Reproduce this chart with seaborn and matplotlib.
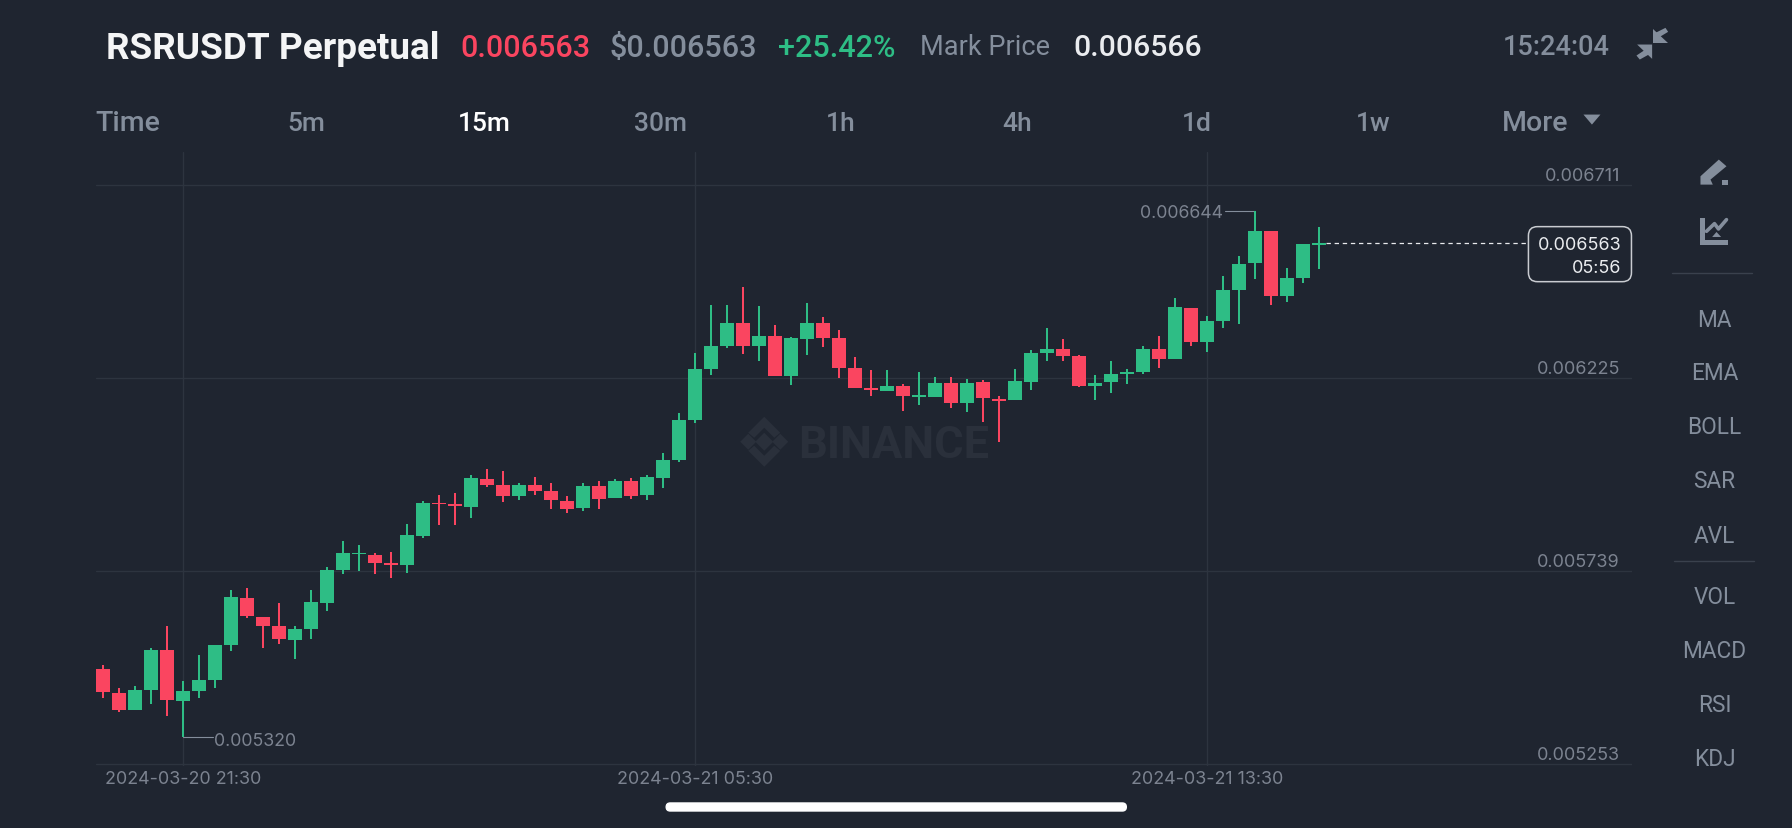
import numpy as np
import pandas as pd
import seaborn as sns
import matplotlib
matplotlib.use("Agg")
import matplotlib.pyplot as plt
from matplotlib.patches import FancyBboxPatch, Polygon

# 15m candles, prices in millionths of USDT
open_vals = [5493, 5432, 5390, 5439, 5540, 5412, 5437, 5464, 5553, 5670, 5624, 5601, 5564, 5592, 5659, 5740,
             5781, 5780, 5758, 5753, 5827, 5910, 5907, 5900, 5971, 5954, 5928, 5955, 5940, 5916, 5896, 5953,
             5923, 5964, 5929, 5973, 6019, 6118, 6247, 6305, 6362, 6305, 6330, 6229, 6323, 6362, 6325, 6250,
             6199, 6192, 6204, 6177, 6176, 6211, 6162, 6213, 6171, 6169, 6215, 6286, 6297, 6280, 6205, 6213,
             6235, 6239, 6297, 6273, 6400, 6316, 6368, 6445, 6513, 6593, 6431, 6475, 6560]
high_vals = [5501, 5445, 5448, 5546, 5599, 5461, 5526, 5553, 5690, 5695, 5624, 5658, 5599, 5692, 5749, 5814,
             5805, 5785, 5787, 5857, 5914, 5929, 5934, 5980, 5995, 5990, 5961, 5975, 5961, 5927, 5960, 5966,
             5970, 5972, 5980, 6035, 6136, 6287, 6408, 6408, 6454, 6405, 6358, 6327, 6413, 6377, 6345, 6277,
             6245, 6245, 6209, 6240, 6227, 6226, 6222, 6218, 6180, 6246, 6295, 6351, 6323, 6281, 6232, 6266,
             6248, 6305, 6330, 6426, 6400, 6381, 6482, 6531, 6644, 6595, 6500, 6562, 6603]
low_vals = [5418, 5385, 5390, 5405, 5374, 5320, 5419, 5443, 5538, 5621, 5544, 5554, 5516, 5568, 5638, 5730,
            5738, 5732, 5722, 5734, 5822, 5854, 5854, 5872, 5950, 5913, 5918, 5931, 5894, 5885, 5889, 5895,
            5923, 5919, 5917, 5947, 6014, 6112, 6233, 6300, 6284, 6266, 6229, 6207, 6281, 6303, 6224, 6198,
            6180, 6192, 6141, 6156, 6176, 6149, 6139, 6113, 6062, 6169, 6194, 6267, 6267, 6202, 6169, 6187,
            6209, 6234, 6250, 6271, 6306, 6289, 6349, 6360, 6473, 6408, 6416, 6463, 6499]
close_vals = [5434, 5390, 5439, 5541, 5413, 5437, 5464, 5553, 5672, 5625, 5601, 5567, 5592, 5660, 5740, 5783,
              5785, 5759, 5754, 5828, 5910, 5906, 5902, 5973, 5955, 5928, 5956, 5940, 5918, 5895, 5953, 5921,
              5965, 5928, 5974, 6019, 6118, 6247, 6305, 6362, 6305, 6330, 6229, 6324, 6362, 6324, 6249, 6198,
              6195, 6204, 6178, 6181, 6212, 6162, 6211, 6175, 6167, 6217, 6287, 6296, 6280, 6204, 6212, 6234,
              6239, 6297, 6272, 6402, 6315, 6368, 6445, 6512, 6593, 6430, 6476, 6562, 6563]

price_ticks = [0.006711, 0.006225, 0.005739, 0.005253]
price_labels = ["0.006711", "0.006225", "0.005739", "0.005253"]
time_idx = [5, 37, 69]
time_labels = ["2024-03-20 21:30", "2024-03-21 05:30", "2024-03-21 13:30"]
low_idx, low_price, low_text = 5, 0.005320, "0.005320"
high_idx, high_price, high_text = 72, 0.006644, "0.006644"
last_price = 0.006563

tabs = ["Time", "5m", "15m", "30m", "1h", "4h", "1d", "1w", "More"]
tabs_x = [128, 306, 484, 660, 840, 1017, 1196, 1373, 1535]
tabs_size = [20.5, 19, 19, 19, 19, 19, 19, 19, 20.5]
side_items = ["MA", "EMA", "BOLL", "SAR", "AVL", "VOL", "MACD", "RSI", "KDJ"]
side_y = [318, 371, 425, 479, 534, 595, 649, 703, 757]

BG = "#1f2530"
GRID = "#2d343f"
UP = "#2ebd85"
DOWN = "#fa4560"
GREY = "#848e9c"
DIM = "#7c8390"
WHITE = "#eaecef"

W, H = 1792, 828
sns.set_theme(style="dark", rc={"figure.facecolor": BG, "axes.facecolor": BG})
plt.rcParams["font.family"] = ["Roboto", "DejaVu Sans"]

df = pd.DataFrame({"idx": np.arange(len(open_vals)), "open": open_vals, "high": high_vals,
                   "low": low_vals, "close": close_vals})
df[["open", "high", "low", "close"]] *= 1e-6
df["top"] = df[["open", "close"]].max(axis=1)
df["bottom"] = df[["open", "close"]].min(axis=1)
df["up"] = df["close"] >= df["open"]

fig = plt.figure(figsize=((W + 0.5) / 100, (H + 0.5) / 100), dpi=100)

# full size layer in pixels for the app chrome
ui = fig.add_axes([0, 0, 1, 1], zorder=0)
ui.set_xlim(0, W)
ui.set_ylim(H, 0)
ui.axis("off")


def label(x, y, s, size, color=GREY, ha="left", weight="normal", family=None):
    # va center counts the descent, push the glyphs back down
    ui.text(x, y + 0.14 * size, s, fontsize=size, color=color, ha=ha, va="center", fontweight=weight,
            family=family or ["Roboto", "DejaVu Sans"])


# header row
label(106, 45, "RSRUSDT Perpetual", 26.6, "#f4f5f6", weight="bold")
label(460, 45, "0.006563", 22, DOWN, weight="medium")
label(609, 45, "$0.006563", 22, GREY, weight="medium")
label(778, 45, "+25.42%", 22, UP, weight="medium")
label(920, 45, "Mark Price", 19.5, GREY)
label(1073, 45, "0.006566", 21.7, WHITE, weight="medium")
label(1502, 45, "15:24:04", 19.5, GREY, weight="medium")

# tab row
for name, x, size in zip(tabs, tabs_x, tabs_size):
    label(x, 121, name, size, "#ffffff" if name == "15m" else GREY, ha="center", weight="medium")
ui.add_patch(Polygon([(1583, 115), (1600, 115), (1591.5, 125)], color=GREY, lw=0))

# side menu
for name, y in zip(side_items, side_y):
    label(1714, y, name, 16.3, GREY, ha="center")
ui.plot([1672, 1752], [273, 273], color="#3a414d", lw=1)
ui.plot([1674, 1754], [561, 561], color="#3a414d", lw=1)


def icon(points, color=GREY):
    ui.add_patch(Polygon([(1480 + px / 3, py / 3) for px, py in points], color=color, lw=0))


# collapse arrows
icon([(517, 87), (517, 130), (562, 130)])
icon([(525, 100), (555, 85), (563, 97), (533, 115)])
icon([(515, 135), (515, 178), (470, 135)])
icon([(505, 165), (478, 180), (468, 168), (495, 150)])
# pencil
icon([(660, 555), (660, 530), (715, 480), (738, 500), (690, 540), (697, 555)])
icon([(725, 540), (742, 540), (742, 555), (725, 555)])
# indicator icon
icon([(660, 655), (675, 655), (675, 722), (742, 722), (742, 737), (660, 737)])
ui.plot([1480 + 678 / 3, 1480 + 702 / 3, 1480 + 714 / 3, 1480 + 738 / 3],
        [695 / 3, 672 / 3, 688 / 3, 660 / 3], color=GREY, lw=2.6)
icon([(695, 712), (722, 712), (708, 697)])

# watermark
WM = "#2a303b"
cx, cy = 764, 442
ui.add_patch(Polygon([(cx - 9, cy), (cx, cy - 9), (cx + 9, cy), (cx, cy + 9)], color=WM, lw=0))
ui.add_patch(Polygon([(cx - 24, cy), (cx - 16, cy - 8), (cx - 8, cy), (cx - 16, cy + 8)], color=WM, lw=0))
ui.add_patch(Polygon([(cx + 24, cy), (cx + 16, cy - 8), (cx + 8, cy), (cx + 16, cy + 8)], color=WM, lw=0))
ui.add_patch(Polygon([(cx, cy - 25), (cx + 16, cy - 9), (cx + 10, cy - 4), (cx, cy - 14),
                      (cx - 10, cy - 4), (cx - 16, cy - 9)], color=WM, lw=0))
ui.add_patch(Polygon([(cx, cy + 25), (cx + 16, cy + 9), (cx + 10, cy + 4), (cx, cy + 14),
                      (cx - 10, cy + 4), (cx - 16, cy + 9)], color=WM, lw=0))
label(798, 441, "BINANCE", 32.5, WM, weight="bold")

# home indicator
ui.add_patch(FancyBboxPatch((666, 803), 460, 8, boxstyle="round,pad=0,rounding_size=4",
                            facecolor="#ffffff", edgecolor="#ffffff", lw=1))

# price chart, candle i sits at 103 + 16 * i px
left, right, top, bottom = 96, 1632, 152, 766
ax = fig.add_axes([left / W, 1 - bottom / H, (right - left) / W, (bottom - top) / H], zorder=1)
ax.patch.set_alpha(0)


def draw(sub, lo, hi, width, color):
    part = sub.assign(span=sub[hi] - sub[lo])
    sns.barplot(data=part, x="idx", y="span", bottom=part[lo].to_numpy(), native_scale=True, width=width,
                color=color, saturation=1, errorbar=None, linewidth=0, ax=ax, zorder=3)


for is_up, color in [(True, UP), (False, DOWN)]:
    sub = df[df["up"] == is_up]
    draw(sub, "low", "high", 0.125, color)
    draw(sub, "bottom", "top", 0.875, color)

ax.set_xlim((left - 103) / 16, (right - 103) / 16)
ax.set_ylim(0.005248, 0.006794)
ax.set_xlabel("")
ax.set_ylabel("")
ax.set_xticks(time_idx, time_labels)
ax.set_yticks(price_ticks, [])
ax.grid(True, color=GRID, lw=1)
ax.set_axisbelow(True)
ax.tick_params(axis="x", length=0, labelsize=12.9, labelcolor=DIM, pad=3)
ax.tick_params(axis="y", length=0)
for lab in ax.get_xticklabels():
    lab.set_family(["Inter", "DejaVu Sans"])
sns.despine(ax=ax, left=True, bottom=True)

for tick, text in zip(price_ticks, price_labels):
    ax.annotate(text, (1, tick), xycoords=("axes fraction", "data"), xytext=(-9, 0),
                textcoords="offset points", ha="right", va="bottom", fontsize=13, color=DIM,
                family=["Inter", "DejaVu Sans"])

# extreme price callouts
ax.plot([low_idx, low_idx + 1.875], [low_price, low_price], color=GREY, lw=0.8, zorder=2)
ax.annotate(low_text, (low_idx + 1.9, low_price), xytext=(0.5, -2.8), textcoords="offset points", va="center",
            fontsize=12.8, color=DIM, family=["Inter", "DejaVu Sans"])
ax.plot([high_idx - 1.9, high_idx], [high_price, high_price], color=GREY, lw=0.8, zorder=2)
ax.annotate(high_text, (high_idx - 1.95, high_price), xytext=(-1, -1.5), textcoords="offset points", ha="right",
            va="center", fontsize=12.8, color=DIM, family=["Inter", "DejaVu Sans"])

# live price line and box
ax.plot([len(df) - 1 + 0.4, (1528 - 103) / 16], [last_price, last_price], color="#e8eaed", lw=0.9,
        dashes=(3.5, 3), zorder=2)
ui.add_patch(FancyBboxPatch((1528, 227), 103, 55, boxstyle="round,pad=0,rounding_size=9",
                            facecolor=BG, edgecolor="#c9ccd1", lw=1.1))
label(1621, 244, "0.006563", 13, WHITE, ha="right", family=["Inter", "DejaVu Sans"])
label(1621, 267, "05:56", 13, WHITE, ha="right", family=["Inter", "DejaVu Sans"])

fig.savefig("out.png", dpi=100, facecolor=BG)
